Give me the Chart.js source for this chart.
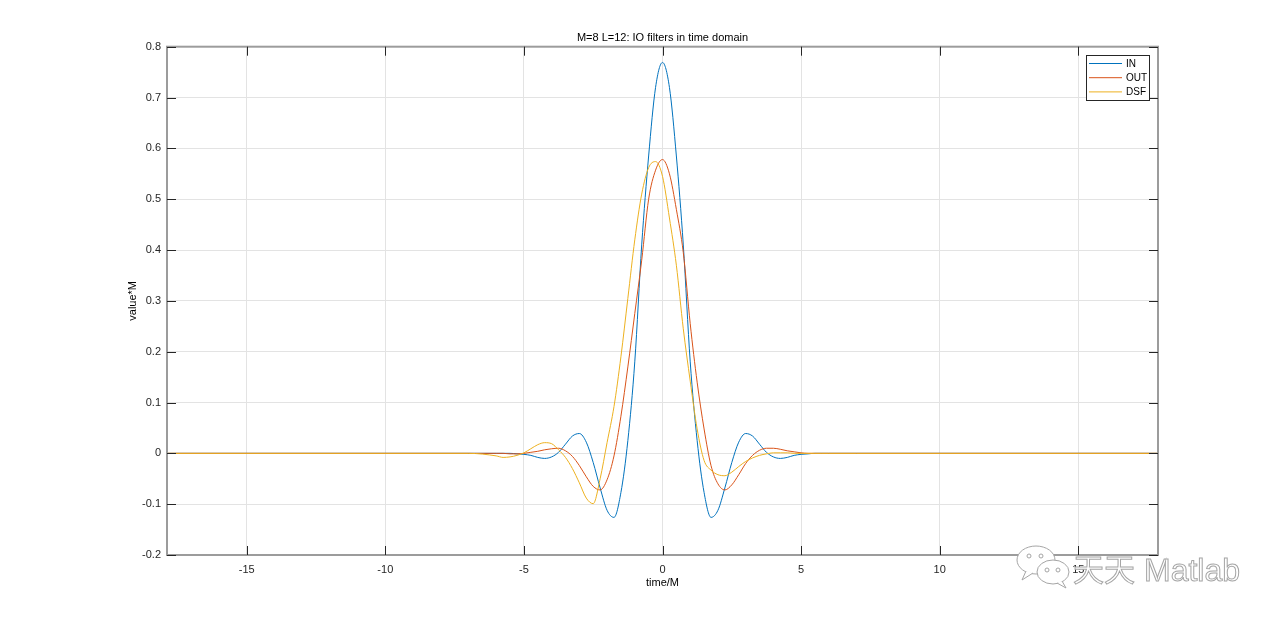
<!DOCTYPE html>
<html>
<head>
<meta charset="utf-8">
<script src="https://cdn.jsdelivr.net/npm/chart.js@4"></script>
<style>
  html, body { margin: 0; padding: 0; background: #fff; }
  canvas { display: block; }
</style>
</head>
<body>
<canvas id="chartIO" width="1280" height="625"></canvas>
<script>
// time axis (time/M) and the three filters
const times = [-17.875, -7, -6, -5.75, -5.5, -5.25, -5, -4.75, -4.5, -4.25, -4, -3.75, -3.5, -3.25, -3, -2.75, -2.5, -2.25, -2, -1.75, -1.5, -1.25, -1, -0.75, -0.5, -0.25,
  0, 0.25, 0.5, 0.75, 1, 1.25, 1.5, 1.75, 2, 2.25, 2.5, 2.75, 3, 3.25, 3.5, 3.75, 4, 4.25, 4.5, 4.75, 5, 5.25, 5.5, 5.75, 6, 7, 17.875];

const inValues = [0, 0, 0, 0, 0, -0.001, -0.002, -0.004, -0.008, -0.010, -0.007, 0.002, 0.018, 0.034, 0.039, 0.022, -0.018, -0.068, -0.112, -0.126, -0.077, 0.025, 0.18, 0.41, 0.585, 0.72,
  0.769, 0.72, 0.585, 0.41, 0.18, 0.025, -0.077, -0.126, -0.112, -0.068, -0.018, 0.022, 0.039, 0.034, 0.018, 0.002, -0.007, -0.010, -0.008, -0.004, -0.002, -0.001, 0, 0, 0, 0, 0];

const outValues = [0, 0, 0, 0, -0.001, -0.001, 0, 0.002, 0.004, 0.007, 0.009, 0.010, 0.005, -0.006, -0.024, -0.046, -0.065, -0.072, -0.052, -0.005, 0.073, 0.17, 0.275, 0.38, 0.50, 0.557,
  0.578, 0.55, 0.48, 0.395, 0.255, 0.14, 0.048, -0.024, -0.06, -0.072, -0.062, -0.042, -0.02, -0.004, 0.006, 0.010, 0.010, 0.008, 0.005, 0.003, 0.001, 0, 0, 0, 0, 0, 0];

const dsfValues = [0, 0, -0.005, -0.008, -0.007, -0.004, 0.001, 0.009, 0.017, 0.021, 0.019, 0.007, -0.008, -0.03, -0.058, -0.088, -0.099, -0.05, 0.021, 0.092, 0.19, 0.305, 0.42, 0.51, 0.562, 0.574,
  0.545, 0.463, 0.37, 0.245, 0.142, 0.048, -0.014, -0.033, -0.042, -0.044, -0.037, -0.026, -0.016, -0.009, -0.004, -0.001, 0.001, 0.001, 0.001, 0, 0, 0, 0, 0, 0, 0, 0];

const seriesNames = ['IN', 'OUT', 'DSF'];
const seriesColors = ['#0072BD', '#D95319', '#EDB120'];
const xTicks = [-15, -10, -5, 0, 5, 10, 15];
const yTicks = [-0.2, -0.1, 0, 0.1, 0.2, 0.3, 0.4, 0.5, 0.6, 0.7, 0.8];
const xLimits = [-17.875, 17.875];

Chart.defaults.font.family = '"Liberation Sans", Arial, Helvetica, sans-serif';
Chart.defaults.font.size = 11;
Chart.defaults.color = '#262626';

function points(values) {
  return times.map((t, i) => ({ x: t, y: values[i] }));
}

// MATLAB style box: grey frame, inward ticks on all four sides
const axesBox = {
  id: 'axesBox',
  afterDatasetsDraw(chart) {
    const { ctx, chartArea: a, scales: { x, y } } = chart;
    ctx.save();
    ctx.strokeStyle = '#9c9c9c';
    ctx.lineWidth = 2;
    ctx.strokeRect(a.left, a.top, a.right - a.left, a.bottom - a.top);
    ctx.strokeStyle = '#262626';
    ctx.lineWidth = 1;
    ctx.beginPath();
    xTicks.forEach(v => {
      const px = Math.round(x.getPixelForValue(v)) + 0.5;
      ctx.moveTo(px, a.bottom); ctx.lineTo(px, a.bottom - 9);
      ctx.moveTo(px, a.top); ctx.lineTo(px, a.top + 9);
    });
    yTicks.forEach(v => {
      const py = Math.round(y.getPixelForValue(v)) + 0.5;
      ctx.moveTo(a.left, py); ctx.lineTo(a.left + 9, py);
      ctx.moveTo(a.right, py); ctx.lineTo(a.right - 9, py);
    });
    ctx.stroke();
    ctx.restore();
  }
};

// legend box in the top right corner
const boxLegend = {
  id: 'boxLegend',
  afterDraw(chart) {
    const { ctx } = chart;
    const bx = 1086.5, by = 55.5, bw = 63, bh = 45;
    ctx.save();
    ctx.fillStyle = '#fff';
    ctx.fillRect(bx, by, bw, bh);
    ctx.strokeStyle = '#262626';
    ctx.lineWidth = 1;
    ctx.strokeRect(bx, by, bw, bh);
    ctx.font = '10px "Liberation Sans", Arial, sans-serif';
    ctx.textBaseline = 'middle';
    ctx.textAlign = 'left';
    chart.data.datasets.forEach((ds, i) => {
      const ly = 63.5 + i * 14.2;
      ctx.strokeStyle = ds.borderColor;
      ctx.beginPath();
      ctx.moveTo(1089, ly); ctx.lineTo(1122, ly);
      ctx.stroke();
      ctx.fillStyle = '#000';
      ctx.fillText(ds.label, 1126, ly + 0.5);
    });
    ctx.restore();
  }
};

// 天天Matlab watermark
const watermark = {
  id: 'watermark',
  afterDraw(chart) {
    const { ctx } = chart;
    ctx.save();
    ctx.strokeStyle = '#a5a5a5';
    ctx.fillStyle = '#fff';
    ctx.lineWidth = 1;
    ctx.beginPath();
    ctx.ellipse(1036, 560, 19, 14, 0, 0, Math.PI * 2);
    ctx.fill(); ctx.stroke();
    ctx.beginPath();
    ctx.moveTo(1026, 571); ctx.lineTo(1022, 580); ctx.lineTo(1033, 573);
    ctx.fill(); ctx.stroke();
    ctx.beginPath();
    ctx.ellipse(1053, 572, 16, 12, 0, 0, Math.PI * 2);
    ctx.fill(); ctx.stroke();
    ctx.beginPath();
    ctx.moveTo(1062, 581); ctx.lineTo(1066, 588); ctx.lineTo(1057, 583);
    ctx.fill(); ctx.stroke();
    [[1029, 556], [1041, 556], [1047, 570], [1058, 570]].forEach(([cx, cy]) => {
      ctx.beginPath();
      ctx.arc(cx, cy, 2, 0, Math.PI * 2);
      ctx.stroke();
    });
    ctx.textBaseline = 'alphabetic';
    ctx.textAlign = 'left';
    ctx.font = '31px "Noto Sans CJK SC", sans-serif';
    ctx.fillText('天天', 1073, 581);
    ctx.strokeText('天天', 1073, 581);
    ctx.font = '32px "Liberation Sans", Arial, sans-serif';
    ctx.fillText('Matlab', 1144, 581);
    ctx.strokeText('Matlab', 1144, 581);
    ctx.restore();
  }
};

const ioChart = new Chart(document.getElementById('chartIO'), {
  type: 'line',
  data: {
    datasets: [
      { label: seriesNames[0], data: points(inValues), borderColor: seriesColors[0], order: 2 },
      { label: seriesNames[1], data: points(outValues), borderColor: seriesColors[1], order: 1 },
      { label: seriesNames[2], data: points(dsfValues), borderColor: seriesColors[2], order: 0 }
    ]
  },
  options: {
    responsive: false,
    animation: false,
    events: [],
    layout: { padding: { left: 126, right: 122, top: 24, bottom: 35.4 } },
    elements: {
      line: { borderWidth: 1, cubicInterpolationMode: 'monotone', fill: false },
      point: { radius: 0 }
    },
    plugins: {
      legend: { display: false },
      tooltip: { enabled: false },
      title: {
        display: true,
        fullSize: false,
        text: 'M=8 L=12: IO filters in time domain',
        color: '#000',
        font: { size: 11, weight: 'normal' },
        padding: { top: 7, bottom: 2.5 }
      }
    },
    scales: {
      x: {
        type: 'linear',
        min: xLimits[0],
        max: xLimits[1],
        afterBuildTicks: s => { s.ticks = xTicks.map(v => ({ value: v })); },
        afterFit: s => { s.height = 34.6; },
        ticks: { padding: 8, maxRotation: 0, callback: v => String(v) },
        grid: { color: '#e3e3e3', drawTicks: false },
        border: { display: false },
        title: { display: true, text: 'time/M', color: '#000', font: { size: 11 }, padding: 0 }
      },
      y: {
        min: yTicks[0],
        max: yTicks[yTicks.length - 1],
        afterBuildTicks: s => { s.ticks = yTicks.map(v => ({ value: v })); },
        afterFit: s => { s.width = 41; },
        ticks: { padding: 6, callback: v => String(+v.toFixed(1)) },
        grid: { color: '#e3e3e3', drawTicks: false },
        border: { display: false },
        title: { display: true, text: 'value*M', color: '#000', font: { size: 11 }, padding: 0 }
      }
    }
  },
  plugins: [axesBox, boxLegend, watermark]
});
</script>
</body>
</html>
